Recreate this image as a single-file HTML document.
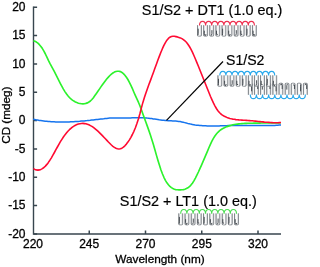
<!DOCTYPE html>
<html><head><meta charset="utf-8"><style>
html,body{margin:0;padding:0;background:#fff;width:311px;height:267px;overflow:hidden}
svg{display:block;will-change:transform}
.t12{font-family:"Liberation Sans",sans-serif;font-size:12px;fill:#000;stroke:#000;stroke-width:0.3px}
.t14{font-family:"Liberation Sans",sans-serif;font-size:14.4px;fill:#000;stroke:#000;stroke-width:0.2px}
</style></head><body>
<svg width="311" height="267" viewBox="0 0 311 267">
<defs><linearGradient id="cyl" x1="0" y1="0" x2="1" y2="0">
<stop offset="0" stop-color="#7c8288"/><stop offset="0.25" stop-color="#f2f3f4"/><stop offset="0.6" stop-color="#ffffff"/><stop offset="1" stop-color="#b0b4b9"/></linearGradient></defs>
<path d="M33.5 6.6 V234 H281" fill="none" stroke="#38464f" stroke-width="1.4"/>
<path d="M33.5 233.90 H37.1 M33.5 205.57 H37.1 M33.5 177.25 H37.1 M33.5 148.92 H37.1 M33.5 120.60 H37.1 M33.5 92.27 H37.1 M33.5 63.95 H37.1 M33.5 35.62 H37.1 M33.5 7.30 H37.1 M89.25 234 V230.6 M145.50 234 V230.6 M201.75 234 V230.6 M258.00 234 V230.6 " fill="none" stroke="#38464f" stroke-width="1.5"/>
<text x="25.5" y="237.7" text-anchor="end" class="t12">-20</text>
<text x="25.5" y="209.4" text-anchor="end" class="t12">-15</text>
<text x="25.5" y="181.1" text-anchor="end" class="t12">-10</text>
<text x="25.5" y="152.7" text-anchor="end" class="t12">-5</text>
<text x="25.5" y="124.4" text-anchor="end" class="t12">0</text>
<text x="25.5" y="96.1" text-anchor="end" class="t12">5</text>
<text x="25.5" y="67.8" text-anchor="end" class="t12">10</text>
<text x="25.5" y="39.4" text-anchor="end" class="t12">15</text>
<text x="25.5" y="11.1" text-anchor="end" class="t12">20</text>
<text x="33.0" y="247.5" text-anchor="middle" class="t12">220</text>
<text x="89.2" y="247.5" text-anchor="middle" class="t12">245</text>
<text x="145.5" y="247.5" text-anchor="middle" class="t12">270</text>
<text x="201.8" y="247.5" text-anchor="middle" class="t12">295</text>
<text x="258.0" y="247.5" text-anchor="middle" class="t12">320</text>
<text x="160" y="262.5" text-anchor="middle" class="t12" style="font-size:11.8px">Wavelength (nm)</text>
<text transform="translate(10.2 115.2) rotate(-90)" text-anchor="middle" class="t12" style="font-size:11.7px">CD (mdeg)</text>
<path d="M33.2 119.3 L34.7 119.6 L36.2 119.9 L37.7 120.1 L39.2 120.4 L40.7 120.6 L42.2 120.8 L43.7 121.0 L45.2 121.2 L46.7 121.3 L48.2 121.5 L49.7 121.6 L51.2 121.7 L52.7 121.8 L54.2 121.8 L55.7 121.9 L57.2 122.0 L58.7 122.0 L60.2 122.0 L61.7 122.0 L63.2 122.0 L64.7 122.0 L66.2 122.0 L67.7 121.9 L69.2 121.9 L70.7 121.8 L72.2 121.7 L73.7 121.7 L75.2 121.6 L76.7 121.5 L78.2 121.4 L79.7 121.3 L81.2 121.1 L82.7 121.0 L84.2 120.9 L85.7 120.7 L87.2 120.6 L88.7 120.4 L90.2 120.3 L91.7 120.1 L93.2 120.0 L94.7 119.8 L96.2 119.6 L97.7 119.5 L99.2 119.3 L100.7 119.1 L102.2 118.9 L103.7 118.8 L105.2 118.6 L106.7 118.4 L108.2 118.2 L109.7 118.1 L111.2 118.0 L112.7 117.9 L114.2 117.9 L115.7 117.9 L117.2 118.0 L118.7 118.0 L120.2 118.1 L121.7 118.1 L123.2 118.1 L124.7 118.1 L126.2 118.0 L127.7 118.0 L129.2 117.9 L130.7 117.9 L132.2 117.8 L133.7 117.8 L135.2 117.7 L136.7 117.7 L138.2 117.7 L139.7 117.7 L141.2 117.7 L142.7 117.7 L144.2 117.8 L145.7 117.9 L147.2 118.1 L148.7 118.2 L150.2 118.4 L151.7 118.6 L153.2 118.9 L154.7 119.1 L156.2 119.3 L157.7 119.5 L159.2 119.8 L160.7 120.0 L162.2 120.2 L163.7 120.3 L165.2 120.5 L166.7 120.6 L168.2 120.7 L169.7 120.8 L171.2 120.8 L172.7 120.9 L174.2 121.0 L175.7 121.1 L177.2 121.2 L178.7 121.4 L180.2 121.6 L181.7 121.9 L183.2 122.2 L184.7 122.6 L186.2 123.0 L187.7 123.4 L189.2 123.7 L190.7 124.1 L192.2 124.4 L193.7 124.7 L195.2 125.0 L196.7 125.2 L198.2 125.3 L199.7 125.5 L201.2 125.6 L202.7 125.7 L204.2 125.8 L205.7 125.8 L207.2 125.9 L208.7 125.9 L210.2 125.9 L211.7 125.9 L213.2 125.9 L214.7 125.9 L216.2 125.9 L217.7 125.9 L219.2 125.9 L220.7 125.8 L222.2 125.8 L223.7 125.7 L225.2 125.7 L226.7 125.7 L228.2 125.6 L229.7 125.6 L231.2 125.5 L232.7 125.5 L234.2 125.5 L235.7 125.5 L237.2 125.4 L238.7 125.4 L240.2 125.4 L241.7 125.4 L243.2 125.4 L244.7 125.4 L246.2 125.5 L247.7 125.5 L249.2 125.5 L250.7 125.5 L252.2 125.5 L253.7 125.5 L255.2 125.6 L256.7 125.6 L258.2 125.6 L259.7 125.6 L261.2 125.6 L262.7 125.6 L264.2 125.6 L265.7 125.6 L267.2 125.6 L268.7 125.6 L270.2 125.5 L271.7 125.5 L273.2 125.4 L274.7 125.4 L276.2 125.3 L277.7 125.2 L279.2 125.1 L280.7 125.0 L281.0 125.0" fill="none" stroke="#1674ee" stroke-width="1.5" stroke-linecap="butt" stroke-linejoin="round"/>
<path d="M33.4 40.7 L34.9 41.3 L36.4 42.1 L37.9 43.2 L39.4 44.7 L40.9 46.5 L42.4 48.6 L43.9 51.1 L45.4 54.0 L46.9 57.2 L48.4 60.4 L49.9 63.4 L51.4 66.1 L52.9 68.8 L54.4 71.7 L55.9 74.7 L57.4 77.7 L58.9 80.7 L60.4 83.6 L61.9 86.4 L63.4 89.1 L64.9 91.6 L66.4 93.8 L67.9 95.8 L69.4 97.5 L70.9 98.9 L72.4 100.1 L73.9 101.1 L75.4 101.9 L76.9 102.6 L78.4 103.2 L79.9 103.5 L81.4 103.8 L82.9 103.9 L84.4 103.7 L85.9 103.4 L87.4 102.9 L88.9 102.1 L90.4 101.0 L91.9 99.5 L93.4 97.7 L94.9 95.6 L96.4 93.5 L97.9 91.3 L99.4 89.1 L100.9 86.9 L102.4 84.8 L103.9 82.7 L105.4 80.7 L106.9 78.8 L108.4 77.1 L109.9 75.5 L111.4 74.1 L112.9 73.0 L114.4 72.1 L115.9 71.5 L117.4 71.2 L118.9 71.2 L120.4 71.6 L121.9 72.4 L123.4 73.6 L124.9 75.2 L126.4 77.2 L127.9 79.5 L129.4 82.3 L130.9 85.4 L132.4 88.7 L133.9 92.2 L135.4 95.6 L136.9 98.9 L138.4 102.2 L139.9 105.8 L141.4 109.8 L142.9 114.0 L144.4 118.1 L145.9 122.2 L147.4 126.4 L148.9 130.6 L150.4 135.0 L151.9 139.7 L153.4 144.6 L154.9 149.8 L156.4 155.1 L157.9 160.2 L159.4 165.1 L160.9 169.7 L162.4 173.7 L163.9 177.3 L165.4 180.3 L166.9 182.8 L168.4 184.8 L169.9 186.4 L171.4 187.6 L172.9 188.5 L174.4 189.2 L175.9 189.6 L177.4 189.8 L178.9 189.9 L180.4 189.9 L181.9 189.8 L183.4 189.6 L184.9 189.2 L186.4 188.6 L187.9 187.8 L189.4 186.7 L190.9 185.1 L192.4 183.2 L193.9 180.9 L195.4 178.1 L196.9 175.1 L198.4 172.0 L199.9 168.7 L201.4 165.3 L202.9 161.9 L204.4 158.4 L205.9 154.9 L207.4 151.4 L208.9 147.8 L210.4 144.4 L211.9 141.2 L213.4 138.4 L214.9 136.0 L216.4 134.0 L217.9 132.3 L219.4 130.9 L220.9 129.7 L222.4 128.7 L223.9 127.9 L225.4 127.2 L226.9 126.6 L228.4 126.1 L229.9 125.6 L231.4 125.2 L232.9 124.8 L234.4 124.5 L235.9 124.3 L237.4 124.1 L238.9 123.9 L240.4 123.7 L241.9 123.6 L243.4 123.5 L244.9 123.4 L246.4 123.4 L247.9 123.3 L249.4 123.2 L250.9 123.2 L252.4 123.2 L253.9 123.1 L255.4 123.1 L256.9 123.1 L258.4 123.1 L259.9 123.1 L261.4 123.0 L262.9 123.0 L264.4 123.0 L265.9 123.0 L267.4 123.0 L268.9 123.0 L270.4 123.0 L271.9 123.0 L273.4 122.9 L274.9 122.9 L276.4 122.9 L277.9 122.8 L279.4 122.8 L280.9 122.7 L281.0 122.7" fill="none" stroke="#2cf22c" stroke-width="1.65" stroke-linecap="butt" stroke-linejoin="round"/>
<path d="M33.4 168.6 L34.9 169.4 L36.4 169.9 L37.9 170.1 L39.4 169.9 L40.9 169.4 L42.4 168.6 L43.9 167.5 L45.4 166.1 L46.9 164.4 L48.4 162.4 L49.9 160.2 L51.4 157.8 L52.9 155.2 L54.4 152.5 L55.9 149.7 L57.4 147.0 L58.9 144.3 L60.4 141.7 L61.9 139.3 L63.4 137.0 L64.9 134.9 L66.4 133.0 L67.9 131.2 L69.4 129.7 L70.9 128.3 L72.4 127.1 L73.9 126.1 L75.4 125.2 L76.9 124.6 L78.4 124.0 L79.9 123.7 L81.4 123.5 L82.9 123.4 L84.4 123.6 L85.9 123.8 L87.4 124.3 L88.9 124.8 L90.4 125.6 L91.9 126.4 L93.4 127.4 L94.9 128.6 L96.4 129.8 L97.9 131.2 L99.4 132.6 L100.9 134.1 L102.4 135.6 L103.9 137.2 L105.4 138.8 L106.9 140.4 L108.4 142.0 L109.9 143.5 L111.4 145.0 L112.9 146.3 L114.4 147.4 L115.9 148.2 L117.4 148.8 L118.9 149.0 L120.4 148.8 L121.9 148.2 L123.4 147.2 L124.9 145.8 L126.4 144.1 L127.9 142.1 L129.4 139.9 L130.9 137.3 L132.4 134.5 L133.9 131.3 L135.4 127.7 L136.9 123.6 L138.4 119.0 L139.9 113.7 L141.4 107.9 L142.9 102.4 L144.4 97.5 L145.9 92.9 L147.4 88.7 L148.9 84.6 L150.4 80.6 L151.9 76.5 L153.4 72.4 L154.9 68.3 L156.4 64.2 L157.9 60.1 L159.4 56.1 L160.9 52.3 L162.4 48.7 L163.9 45.4 L165.4 42.6 L166.9 40.2 L168.4 38.4 L169.9 37.2 L171.4 36.5 L172.9 36.3 L174.4 36.3 L175.9 36.6 L177.4 36.9 L178.9 37.4 L180.4 37.9 L181.9 38.6 L183.4 39.6 L184.9 40.8 L186.4 42.3 L187.9 44.2 L189.4 46.5 L190.9 49.1 L192.4 52.1 L193.9 55.5 L195.4 59.0 L196.9 62.6 L198.4 66.2 L199.9 70.0 L201.4 73.7 L202.9 77.5 L204.4 81.3 L205.9 85.0 L207.4 88.8 L208.9 92.5 L210.4 96.2 L211.9 99.6 L213.4 102.9 L214.9 105.8 L216.4 108.5 L217.9 110.7 L219.4 112.5 L220.9 114.0 L222.4 115.1 L223.9 116.0 L225.4 116.7 L226.9 117.4 L228.4 117.9 L229.9 118.4 L231.4 118.8 L232.9 119.1 L234.4 119.3 L235.9 119.6 L237.4 119.7 L238.9 119.9 L240.4 120.0 L241.9 120.1 L243.4 120.2 L244.9 120.3 L246.4 120.4 L247.9 120.5 L249.4 120.6 L250.9 120.7 L252.4 120.8 L253.9 121.0 L255.4 121.1 L256.9 121.3 L258.4 121.5 L259.9 121.6 L261.4 121.8 L262.9 121.9 L264.4 122.1 L265.9 122.2 L267.4 122.3 L268.9 122.4 L270.4 122.5 L271.9 122.6 L273.4 122.7 L274.9 122.7 L276.4 122.7 L277.9 122.7 L279.4 122.6 L280.9 122.5 L281.0 122.5" fill="none" stroke="#ff0a32" stroke-width="1.6" stroke-linecap="butt" stroke-linejoin="round"/>
<path d="M223 61.5 L166.5 120.3" stroke="#000" stroke-width="1.2"/>
<text x="141.8" y="15" class="t14">S1/S2 + DT1 (1.0 eq.)</text>
<text x="226" y="64.8" class="t14" style="font-size:14.1px">S1/S2</text>
<text x="119.8" y="205.7" class="t14">S1/S2 + LT1 (1.0 eq.)</text>
<rect x="197.50" y="25.20" width="4.00" height="11.00" rx="0" fill="url(#cyl)"/>
<path d="M197.50 25.20 V35.00 Q197.50 36.20 198.70 36.20 H200.30 Q201.50 36.20 201.50 35.00 V25.20" fill="none" stroke="#6a7076" stroke-width="0.7"/>
<path d="M198.20 28.70 V33.20 L198.00 35.00" fill="none" stroke="#3a3f45" stroke-width="0.9"/>
<rect x="203.60" y="25.20" width="4.00" height="11.00" rx="0" fill="url(#cyl)"/>
<path d="M203.60 25.20 V35.00 Q203.60 36.20 204.80 36.20 H206.40 Q207.60 36.20 207.60 35.00 V25.20" fill="none" stroke="#6a7076" stroke-width="0.7"/>
<path d="M204.30 30.70 V33.70 L205.20 35.70 L206.00 34.20" fill="none" stroke="#3a3f45" stroke-width="0.9"/>
<rect x="209.70" y="25.20" width="4.00" height="11.00" rx="0" fill="url(#cyl)"/>
<path d="M209.70 25.20 V35.00 Q209.70 36.20 210.90 36.20 H212.50 Q213.70 36.20 213.70 35.00 V25.20" fill="none" stroke="#6a7076" stroke-width="0.7"/>
<path d="M211.90 30.15 V33.70 L211.30 35.60" fill="none" stroke="#3a3f45" stroke-width="0.9"/>
<rect x="215.80" y="25.20" width="4.00" height="11.00" rx="0" fill="url(#cyl)"/>
<path d="M215.80 25.20 V35.00 Q215.80 36.20 217.00 36.20 H218.60 Q219.80 36.20 219.80 35.00 V25.20" fill="none" stroke="#6a7076" stroke-width="0.7"/>
<path d="M216.50 30.70 V34.40 L217.80 34.40" fill="none" stroke="#3a3f45" stroke-width="0.9"/>
<rect x="221.90" y="25.20" width="4.00" height="11.00" rx="0" fill="url(#cyl)"/>
<path d="M221.90 25.20 V35.00 Q221.90 36.20 223.10 36.20 H224.70 Q225.90 36.20 225.90 35.00 V25.20" fill="none" stroke="#6a7076" stroke-width="0.7"/>
<path d="M222.60 28.70 V33.20 L222.40 35.00" fill="none" stroke="#3a3f45" stroke-width="0.9"/>
<rect x="228.00" y="25.20" width="4.00" height="11.00" rx="0" fill="url(#cyl)"/>
<path d="M228.00 25.20 V35.00 Q228.00 36.20 229.20 36.20 H230.80 Q232.00 36.20 232.00 35.00 V25.20" fill="none" stroke="#6a7076" stroke-width="0.7"/>
<path d="M228.70 30.70 V33.70 L229.60 35.70 L230.40 34.20" fill="none" stroke="#3a3f45" stroke-width="0.9"/>
<rect x="234.10" y="25.20" width="4.00" height="11.00" rx="0" fill="url(#cyl)"/>
<path d="M234.10 25.20 V35.00 Q234.10 36.20 235.30 36.20 H236.90 Q238.10 36.20 238.10 35.00 V25.20" fill="none" stroke="#6a7076" stroke-width="0.7"/>
<path d="M236.30 30.15 V33.70 L235.70 35.60" fill="none" stroke="#3a3f45" stroke-width="0.9"/>
<rect x="240.20" y="25.20" width="4.00" height="11.00" rx="0" fill="url(#cyl)"/>
<path d="M240.20 25.20 V35.00 Q240.20 36.20 241.40 36.20 H243.00 Q244.20 36.20 244.20 35.00 V25.20" fill="none" stroke="#6a7076" stroke-width="0.7"/>
<path d="M240.90 30.70 V34.40 L242.20 34.40" fill="none" stroke="#3a3f45" stroke-width="0.9"/>
<rect x="246.30" y="25.20" width="4.00" height="11.00" rx="0" fill="url(#cyl)"/>
<path d="M246.30 25.20 V35.00 Q246.30 36.20 247.50 36.20 H249.10 Q250.30 36.20 250.30 35.00 V25.20" fill="none" stroke="#6a7076" stroke-width="0.7"/>
<path d="M247.00 28.70 V33.20 L246.80 35.00" fill="none" stroke="#3a3f45" stroke-width="0.9"/>
<rect x="252.40" y="25.20" width="4.00" height="11.00" rx="0" fill="url(#cyl)"/>
<path d="M252.40 25.20 V35.00 Q252.40 36.20 253.60 36.20 H255.20 Q256.40 36.20 256.40 35.00 V25.20" fill="none" stroke="#6a7076" stroke-width="0.7"/>
<path d="M253.10 30.70 V33.70 L254.00 35.70 L254.80 34.20" fill="none" stroke="#3a3f45" stroke-width="0.9"/>
<path d="M199.50 25.50 C199.50 19.91 205.60 19.91 205.60 25.50 M205.60 25.50 C205.60 19.91 211.70 19.91 211.70 25.50 M211.70 25.50 C211.70 19.91 217.80 19.91 217.80 25.50 M217.80 25.50 C217.80 19.91 223.90 19.91 223.90 25.50 M223.90 25.50 C223.90 19.91 230.00 19.91 230.00 25.50 M230.00 25.50 C230.00 19.91 236.10 19.91 236.10 25.50 M236.10 25.50 C236.10 19.91 242.20 19.91 242.20 25.50 M242.20 25.50 C242.20 19.91 248.30 19.91 248.30 25.50 M248.30 25.50 C248.30 19.91 254.40 19.91 254.40 25.50 " fill="none" stroke="#ee3050" stroke-width="1.15"/>
<rect x="178.70" y="213.40" width="4.00" height="11.50" rx="0" fill="url(#cyl)"/>
<path d="M178.70 213.40 V223.70 Q178.70 224.90 179.90 224.90 H181.50 Q182.70 224.90 182.70 223.70 V213.40" fill="none" stroke="#6a7076" stroke-width="0.7"/>
<path d="M179.40 216.90 V221.90 L179.20 223.70" fill="none" stroke="#3a3f45" stroke-width="0.9"/>
<rect x="184.90" y="213.40" width="4.00" height="11.50" rx="0" fill="url(#cyl)"/>
<path d="M184.90 213.40 V223.70 Q184.90 224.90 186.10 224.90 H187.70 Q188.90 224.90 188.90 223.70 V213.40" fill="none" stroke="#6a7076" stroke-width="0.7"/>
<path d="M185.60 219.15 V222.40 L186.50 224.40 L187.30 222.90" fill="none" stroke="#3a3f45" stroke-width="0.9"/>
<rect x="191.10" y="213.40" width="4.00" height="11.50" rx="0" fill="url(#cyl)"/>
<path d="M191.10 213.40 V223.70 Q191.10 224.90 192.30 224.90 H193.90 Q195.10 224.90 195.10 223.70 V213.40" fill="none" stroke="#6a7076" stroke-width="0.7"/>
<path d="M193.30 218.58 V222.40 L192.70 224.30" fill="none" stroke="#3a3f45" stroke-width="0.9"/>
<rect x="197.30" y="213.40" width="4.00" height="11.50" rx="0" fill="url(#cyl)"/>
<path d="M197.30 213.40 V223.70 Q197.30 224.90 198.50 224.90 H200.10 Q201.30 224.90 201.30 223.70 V213.40" fill="none" stroke="#6a7076" stroke-width="0.7"/>
<path d="M198.00 219.15 V223.10 L199.30 223.10" fill="none" stroke="#3a3f45" stroke-width="0.9"/>
<rect x="203.50" y="213.40" width="4.00" height="11.50" rx="0" fill="url(#cyl)"/>
<path d="M203.50 213.40 V223.70 Q203.50 224.90 204.70 224.90 H206.30 Q207.50 224.90 207.50 223.70 V213.40" fill="none" stroke="#6a7076" stroke-width="0.7"/>
<path d="M204.20 216.90 V221.90 L204.00 223.70" fill="none" stroke="#3a3f45" stroke-width="0.9"/>
<rect x="209.70" y="213.40" width="4.00" height="11.50" rx="0" fill="url(#cyl)"/>
<path d="M209.70 213.40 V223.70 Q209.70 224.90 210.90 224.90 H212.50 Q213.70 224.90 213.70 223.70 V213.40" fill="none" stroke="#6a7076" stroke-width="0.7"/>
<path d="M210.40 219.15 V222.40 L211.30 224.40 L212.10 222.90" fill="none" stroke="#3a3f45" stroke-width="0.9"/>
<rect x="215.90" y="213.40" width="4.00" height="11.50" rx="0" fill="url(#cyl)"/>
<path d="M215.90 213.40 V223.70 Q215.90 224.90 217.10 224.90 H218.70 Q219.90 224.90 219.90 223.70 V213.40" fill="none" stroke="#6a7076" stroke-width="0.7"/>
<path d="M218.10 218.58 V222.40 L217.50 224.30" fill="none" stroke="#3a3f45" stroke-width="0.9"/>
<rect x="222.10" y="213.40" width="4.00" height="11.50" rx="0" fill="url(#cyl)"/>
<path d="M222.10 213.40 V223.70 Q222.10 224.90 223.30 224.90 H224.90 Q226.10 224.90 226.10 223.70 V213.40" fill="none" stroke="#6a7076" stroke-width="0.7"/>
<path d="M222.80 219.15 V223.10 L224.10 223.10" fill="none" stroke="#3a3f45" stroke-width="0.9"/>
<rect x="228.30" y="213.40" width="4.00" height="11.50" rx="0" fill="url(#cyl)"/>
<path d="M228.30 213.40 V223.70 Q228.30 224.90 229.50 224.90 H231.10 Q232.30 224.90 232.30 223.70 V213.40" fill="none" stroke="#6a7076" stroke-width="0.7"/>
<path d="M229.00 216.90 V221.90 L228.80 223.70" fill="none" stroke="#3a3f45" stroke-width="0.9"/>
<rect x="234.50" y="213.40" width="4.00" height="11.50" rx="0" fill="url(#cyl)"/>
<path d="M234.50 213.40 V223.70 Q234.50 224.90 235.70 224.90 H237.30 Q238.50 224.90 238.50 223.70 V213.40" fill="none" stroke="#6a7076" stroke-width="0.7"/>
<path d="M235.20 219.15 V222.40 L236.10 224.40 L236.90 222.90" fill="none" stroke="#3a3f45" stroke-width="0.9"/>
<path d="M180.70 213.70 C180.70 208.11 186.90 208.11 186.90 213.70 M186.90 213.70 C186.90 208.11 193.10 208.11 193.10 213.70 M193.10 213.70 C193.10 208.11 199.30 208.11 199.30 213.70 M199.30 213.70 C199.30 208.11 205.50 208.11 205.50 213.70 M205.50 213.70 C205.50 208.11 211.70 208.11 211.70 213.70 M211.70 213.70 C211.70 208.11 217.90 208.11 217.90 213.70 M217.90 213.70 C217.90 208.11 224.10 208.11 224.10 213.70 M224.10 213.70 C224.10 208.11 230.30 208.11 230.30 213.70 M230.30 213.70 C230.30 208.11 236.50 208.11 236.50 213.70 " fill="none" stroke="#4ade50" stroke-width="1.15"/>
<rect x="248.30" y="83.20" width="4.00" height="11.60" rx="0" fill="url(#cyl)"/>
<path d="M248.30 94.80 V84.40 Q248.30 83.20 249.50 83.20 H251.10 Q252.30 83.20 252.30 84.40 V94.80" fill="none" stroke="#6a7076" stroke-width="0.7"/>
<path d="M251.60 91.30 V86.20 L251.80 84.40" fill="none" stroke="#3a3f45" stroke-width="0.9"/>
<rect x="254.42" y="83.20" width="4.00" height="11.60" rx="0" fill="url(#cyl)"/>
<path d="M254.42 94.80 V84.40 Q254.42 83.20 255.62 83.20 H257.22 Q258.42 83.20 258.42 84.40 V94.80" fill="none" stroke="#6a7076" stroke-width="0.7"/>
<path d="M257.72 89.00 V85.70 L256.82 83.70 L256.02 85.20" fill="none" stroke="#3a3f45" stroke-width="0.9"/>
<rect x="260.54" y="83.20" width="4.00" height="11.60" rx="0" fill="url(#cyl)"/>
<path d="M260.54 94.80 V84.40 Q260.54 83.20 261.74 83.20 H263.34 Q264.54 83.20 264.54 84.40 V94.80" fill="none" stroke="#6a7076" stroke-width="0.7"/>
<path d="M262.34 89.58 V85.70 L262.94 83.80" fill="none" stroke="#3a3f45" stroke-width="0.9"/>
<rect x="266.66" y="83.20" width="4.00" height="11.60" rx="0" fill="url(#cyl)"/>
<path d="M266.66 94.80 V84.40 Q266.66 83.20 267.86 83.20 H269.46 Q270.66 83.20 270.66 84.40 V94.80" fill="none" stroke="#6a7076" stroke-width="0.7"/>
<path d="M269.96 89.00 V85.00 L268.66 85.00" fill="none" stroke="#3a3f45" stroke-width="0.9"/>
<rect x="272.78" y="83.20" width="4.00" height="11.60" rx="0" fill="url(#cyl)"/>
<path d="M272.78 94.80 V84.40 Q272.78 83.20 273.98 83.20 H275.58 Q276.78 83.20 276.78 84.40 V94.80" fill="none" stroke="#6a7076" stroke-width="0.7"/>
<path d="M276.08 91.30 V86.20 L276.28 84.40" fill="none" stroke="#3a3f45" stroke-width="0.9"/>
<rect x="278.90" y="83.20" width="4.00" height="11.60" rx="0" fill="url(#cyl)"/>
<path d="M278.90 94.80 V84.40 Q278.90 83.20 280.10 83.20 H281.70 Q282.90 83.20 282.90 84.40 V94.80" fill="none" stroke="#6a7076" stroke-width="0.7"/>
<path d="M282.20 89.00 V85.70 L281.30 83.70 L280.50 85.20" fill="none" stroke="#3a3f45" stroke-width="0.9"/>
<rect x="285.02" y="83.20" width="4.00" height="11.60" rx="0" fill="url(#cyl)"/>
<path d="M285.02 94.80 V84.40 Q285.02 83.20 286.22 83.20 H287.82 Q289.02 83.20 289.02 84.40 V94.80" fill="none" stroke="#6a7076" stroke-width="0.7"/>
<path d="M286.82 89.58 V85.70 L287.42 83.80" fill="none" stroke="#3a3f45" stroke-width="0.9"/>
<rect x="291.14" y="83.20" width="4.00" height="11.60" rx="0" fill="url(#cyl)"/>
<path d="M291.14 94.80 V84.40 Q291.14 83.20 292.34 83.20 H293.94 Q295.14 83.20 295.14 84.40 V94.80" fill="none" stroke="#6a7076" stroke-width="0.7"/>
<path d="M294.44 89.00 V85.00 L293.14 85.00" fill="none" stroke="#3a3f45" stroke-width="0.9"/>
<rect x="297.26" y="83.20" width="4.00" height="11.60" rx="0" fill="url(#cyl)"/>
<path d="M297.26 94.80 V84.40 Q297.26 83.20 298.46 83.20 H300.06 Q301.26 83.20 301.26 84.40 V94.80" fill="none" stroke="#6a7076" stroke-width="0.7"/>
<path d="M300.56 91.30 V86.20 L300.76 84.40" fill="none" stroke="#3a3f45" stroke-width="0.9"/>
<rect x="303.38" y="83.20" width="4.00" height="11.60" rx="0" fill="url(#cyl)"/>
<path d="M303.38 94.80 V84.40 Q303.38 83.20 304.58 83.20 H306.18 Q307.38 83.20 307.38 84.40 V94.80" fill="none" stroke="#6a7076" stroke-width="0.7"/>
<path d="M306.68 89.00 V85.70 L305.78 83.70 L304.98 85.20" fill="none" stroke="#3a3f45" stroke-width="0.9"/>
<path d="M250.30 94.50 C250.30 100.09 256.42 100.09 256.42 94.50 M256.42 94.50 C256.42 100.09 262.54 100.09 262.54 94.50 M262.54 94.50 C262.54 100.09 268.66 100.09 268.66 94.50 M268.66 94.50 C268.66 100.09 274.78 100.09 274.78 94.50 M274.78 94.50 C274.78 100.09 280.90 100.09 280.90 94.50 M280.90 94.50 C280.90 100.09 287.02 100.09 287.02 94.50 M287.02 94.50 C287.02 100.09 293.14 100.09 293.14 94.50 M293.14 94.50 C293.14 100.09 299.26 100.09 299.26 94.50 M299.26 94.50 C299.26 100.09 305.38 100.09 305.38 94.50 " fill="none" stroke="#28a8ec" stroke-width="1.15"/>
<rect x="217.80" y="75.30" width="4.00" height="11.00" rx="0" fill="url(#cyl)"/>
<path d="M217.80 75.30 V85.10 Q217.80 86.30 219.00 86.30 H220.60 Q221.80 86.30 221.80 85.10 V75.30" fill="none" stroke="#6a7076" stroke-width="0.7"/>
<path d="M218.50 78.80 V83.30 L218.30 85.10" fill="none" stroke="#3a3f45" stroke-width="0.9"/>
<rect x="223.90" y="75.30" width="4.00" height="11.00" rx="0" fill="url(#cyl)"/>
<path d="M223.90 75.30 V85.10 Q223.90 86.30 225.10 86.30 H226.70 Q227.90 86.30 227.90 85.10 V75.30" fill="none" stroke="#6a7076" stroke-width="0.7"/>
<path d="M224.60 80.80 V83.80 L225.50 85.80 L226.30 84.30" fill="none" stroke="#3a3f45" stroke-width="0.9"/>
<rect x="230.00" y="75.30" width="4.00" height="11.00" rx="0" fill="url(#cyl)"/>
<path d="M230.00 75.30 V85.10 Q230.00 86.30 231.20 86.30 H232.80 Q234.00 86.30 234.00 85.10 V75.30" fill="none" stroke="#6a7076" stroke-width="0.7"/>
<path d="M232.20 80.25 V83.80 L231.60 85.70" fill="none" stroke="#3a3f45" stroke-width="0.9"/>
<rect x="236.10" y="75.30" width="4.00" height="11.00" rx="0" fill="url(#cyl)"/>
<path d="M236.10 75.30 V85.10 Q236.10 86.30 237.30 86.30 H238.90 Q240.10 86.30 240.10 85.10 V75.30" fill="none" stroke="#6a7076" stroke-width="0.7"/>
<path d="M236.80 80.80 V84.50 L238.10 84.50" fill="none" stroke="#3a3f45" stroke-width="0.9"/>
<rect x="242.20" y="75.30" width="4.00" height="11.00" rx="0" fill="url(#cyl)"/>
<path d="M242.20 75.30 V85.10 Q242.20 86.30 243.40 86.30 H245.00 Q246.20 86.30 246.20 85.10 V75.30" fill="none" stroke="#6a7076" stroke-width="0.7"/>
<path d="M242.90 78.80 V83.30 L242.70 85.10" fill="none" stroke="#3a3f45" stroke-width="0.9"/>
<rect x="248.30" y="75.30" width="4.00" height="11.00" rx="0" fill="url(#cyl)"/>
<path d="M248.30 75.30 V85.10 Q248.30 86.30 249.50 86.30 H251.10 Q252.30 86.30 252.30 85.10 V75.30" fill="none" stroke="#6a7076" stroke-width="0.7"/>
<path d="M249.00 80.80 V83.80 L249.90 85.80 L250.70 84.30" fill="none" stroke="#3a3f45" stroke-width="0.9"/>
<rect x="254.40" y="75.30" width="4.00" height="11.00" rx="0" fill="url(#cyl)"/>
<path d="M254.40 75.30 V85.10 Q254.40 86.30 255.60 86.30 H257.20 Q258.40 86.30 258.40 85.10 V75.30" fill="none" stroke="#6a7076" stroke-width="0.7"/>
<path d="M256.60 80.25 V83.80 L256.00 85.70" fill="none" stroke="#3a3f45" stroke-width="0.9"/>
<rect x="260.50" y="75.30" width="4.00" height="11.00" rx="0" fill="url(#cyl)"/>
<path d="M260.50 75.30 V85.10 Q260.50 86.30 261.70 86.30 H263.30 Q264.50 86.30 264.50 85.10 V75.30" fill="none" stroke="#6a7076" stroke-width="0.7"/>
<path d="M261.20 80.80 V84.50 L262.50 84.50" fill="none" stroke="#3a3f45" stroke-width="0.9"/>
<rect x="266.60" y="75.30" width="4.00" height="11.00" rx="0" fill="url(#cyl)"/>
<path d="M266.60 75.30 V85.10 Q266.60 86.30 267.80 86.30 H269.40 Q270.60 86.30 270.60 85.10 V75.30" fill="none" stroke="#6a7076" stroke-width="0.7"/>
<path d="M267.30 78.80 V83.30 L267.10 85.10" fill="none" stroke="#3a3f45" stroke-width="0.9"/>
<rect x="272.70" y="75.30" width="4.00" height="11.00" rx="0" fill="url(#cyl)"/>
<path d="M272.70 75.30 V85.10 Q272.70 86.30 273.90 86.30 H275.50 Q276.70 86.30 276.70 85.10 V75.30" fill="none" stroke="#6a7076" stroke-width="0.7"/>
<path d="M273.40 80.80 V83.80 L274.30 85.80 L275.10 84.30" fill="none" stroke="#3a3f45" stroke-width="0.9"/>
<path d="M219.80 75.60 C219.80 70.01 225.90 70.01 225.90 75.60 M225.90 75.60 C225.90 70.01 232.00 70.01 232.00 75.60 M232.00 75.60 C232.00 70.01 238.10 70.01 238.10 75.60 M238.10 75.60 C238.10 70.01 244.20 70.01 244.20 75.60 M244.20 75.60 C244.20 70.01 250.30 70.01 250.30 75.60 M250.30 75.60 C250.30 70.01 256.40 70.01 256.40 75.60 M256.40 75.60 C256.40 70.01 262.50 70.01 262.50 75.60 M262.50 75.60 C262.50 70.01 268.60 70.01 268.60 75.60 M268.60 75.60 C268.60 70.01 274.70 70.01 274.70 75.60 " fill="none" stroke="#28a8ec" stroke-width="1.15"/>
</svg></body></html>
